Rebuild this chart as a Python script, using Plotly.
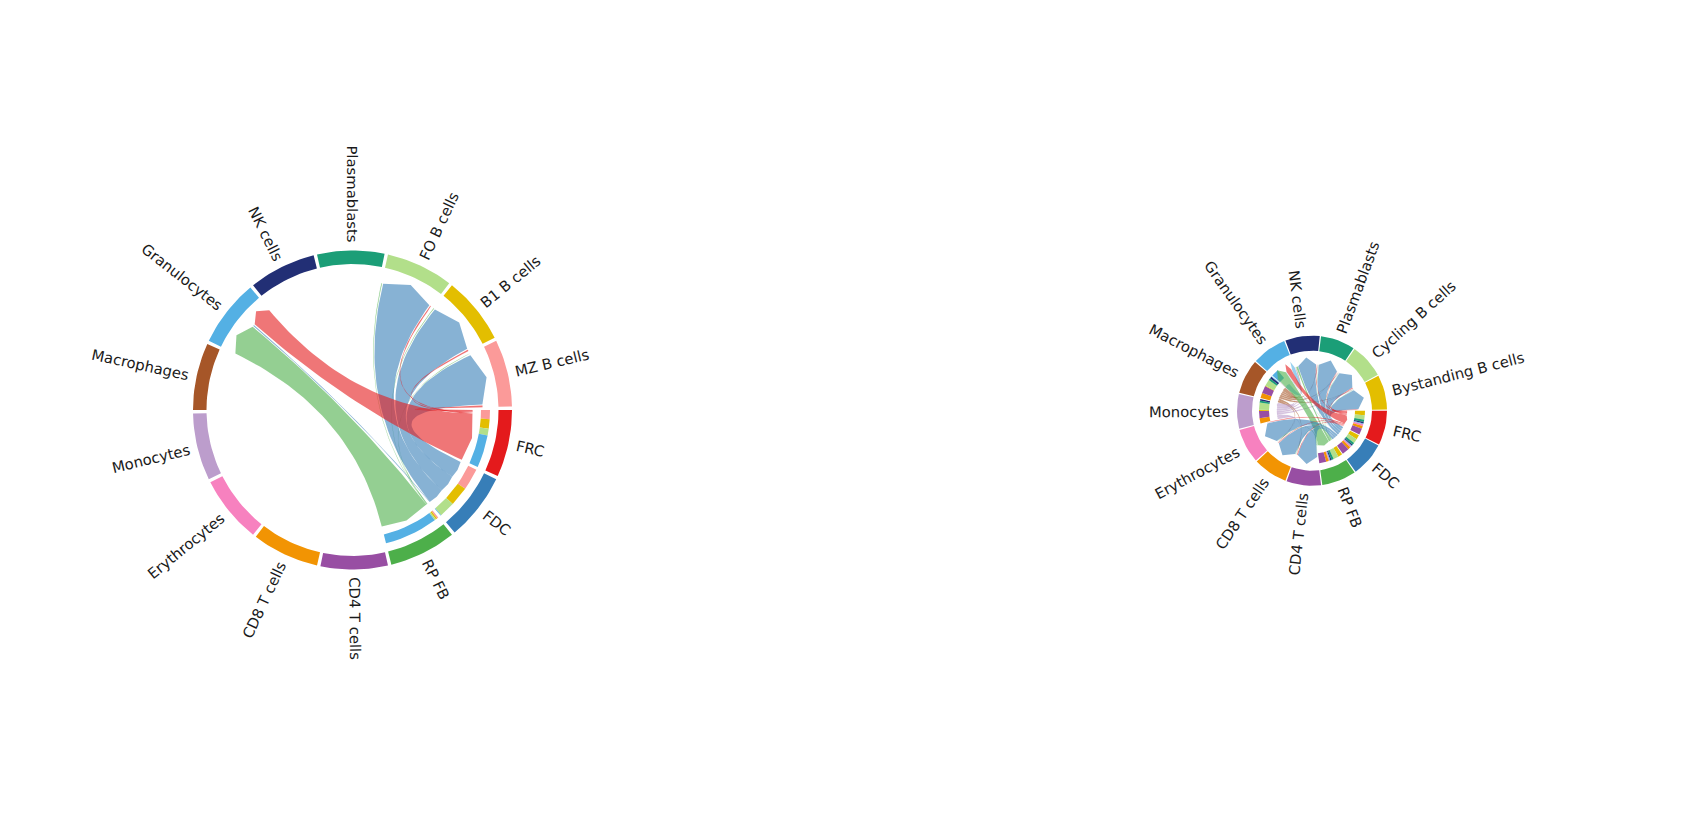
import math
import plotly.graph_objects as go

# ---------- data ----------
left_categories = ["FRC", "FDC", "RP FB", "CD4 T cells", "CD8 T cells", "Erythrocytes", "Monocytes",
                   "Macrophages", "Granulocytes", "NK cells", "Plasmablasts", "FO B cells", "B1 B cells", "MZ B cells"]
left_sources = ["FRC", "FDC", "RP FB"]
left_targets = ["MZ B cells", "B1 B cells", "FO B cells", "Granulocytes"]
left_flow = [[1.0, 0.9, 0.8, 35.0],
             [33.0, 33.0, 32.0, 1.5],
             [0.4, 0.4, 0.4, 55.0]]
left_ring = [[3.9, 4.0, 2.9, 14.0],
             [9.0, 8.0, 6.5, 0.3],
             [0.6, 0.6, 0.6, 22.0]]

right_categories = ["FRC", "FDC", "RP FB", "CD4 T cells", "CD8 T cells", "Erythrocytes", "Monocytes",
                    "Macrophages", "Granulocytes", "NK cells", "Plasmablasts", "Cycling B cells", "Bystanding B cells"]
right_sources = ["FRC", "FDC", "RP FB", "Monocytes", "Macrophages", "Granulocytes"]
right_source_span = [1, 1, 1, 1, 1, 0.3]
right_targets = ["Bystanding B cells", "Cycling B cells", "Plasmablasts", "NK cells", "Granulocytes",
                 "Erythrocytes", "CD8 T cells", "CD4 T cells"]
right_flow = [[1.0, 1.0, 1.0, 0.8, 8.0, 1.0, 0.8, 0.8],
              [30, 30, 30, 30, 0.3, 30, 30, 30],
              [0.4, 0.4, 0.4, 3.0, 16.0, 0.4, 0.4, 0.4],
              [0.15, 0.15, 0.15, 0.15, 0.3, 0, 0.15, 0.15],
              [0.15, 0.15, 0.15, 0.15, 0.3, 0, 0.15, 0.15],
              [0, 0, 0, 0, 5.5, 0, 0, 0]]
right_ring = [[5, 5, 2.5, 1.5, 1, 2, 3, 7],
              [5, 5, 2.5, 1.5, 1, 1.5, 3, 8],
              [5, 6, 2.5, 1.5, 1, 1, 3, 8],
              [1, 7, 2, 1.5, 0, 0, 5, 7],
              [0.5, 6, 2, 2, 0.5, 0, 5, 7],
              [0, 0, 0, 0, 8, 0, 0, 0]]

colors = {"FRC": "#E41A1C", "FDC": "#377EB8", "RP FB": "#4DAF4A", "CD4 T cells": "#984EA3",
          "CD8 T cells": "#F29403", "Erythrocytes": "#F781BF", "Monocytes": "#BC9DCC",
          "Macrophages": "#A65628", "Granulocytes": "#54B0E4", "NK cells": "#222F75",
          "Plasmablasts": "#1B9E77", "FO B cells": "#B2DF8A", "Cycling B cells": "#B2DF8A",
          "B1 B cells": "#E3BE00", "Bystanding B cells": "#E3BE00", "MZ B cells": "#FB9A99"}

char_w = {"a": .613, "b": .635, "c": .55, "d": .635, "e": .615, "f": .352, "g": .635, "h": .634, "i": .278,
          "j": .278, "k": .579, "l": .278, "m": .974, "n": .634, "o": .612, "p": .635, "q": .635, "r": .411,
          "s": .521, "t": .392, "u": .634, "v": .592, "w": .818, "x": .592, "y": .592, "z": .525, " ": .318,
          "B": .686, "C": .698, "D": .77, "E": .632, "F": .575, "G": .775, "M": .863, "N": .748, "O": .787,
          "P": .603, "R": .695, "T": .611, "Z": .685, "1": .636, "4": .636, "8": .636}

FONT = 14.8
W, H = 1690, 827


def rgba(hex_color, a):
    return "rgba(%d,%d,%d,%s)" % (int(hex_color[1:3], 16), int(hex_color[3:5], 16), int(hex_color[5:7], 16), a)


def pt(r, deg):
    a = math.radians(deg)
    return r * math.cos(a), r * math.sin(a)


def band(r0, r1, a0, a1, n):
    pts = [pt(r1, a0 + (a1 - a0) * i / n) for i in range(n + 1)]
    pts += [pt(r0, a1 + (a0 - a1) * i / n) for i in range(n + 1)]
    pts.append(pts[0])
    return pts


def poly(fig, pts, color, axes, line=0.0):
    fig.add_trace(go.Scatter(x=[p[0] for p in pts], y=[p[1] for p in pts], mode="lines", fill="toself",
                             fillcolor=color, line=dict(width=line, color=color), hoverinfo="skip",
                             showlegend=False, xaxis=axes[0], yaxis=axes[1]))


def bez(p0, p1, n=36):
    # quadratic curve whose control point is the circle centre
    return [((1 - t) ** 2 * p0[0] + t ** 2 * p1[0], (1 - t) ** 2 * p0[1] + t ** 2 * p1[1])
            for t in (i / n for i in range(n + 1))]


def chord(fig, axes, cats, sources, targets, flow, ring, span_frac, cfg):
    n = len(cats)
    step = 360.0 / n
    idx = {c: i for i, c in enumerate(cats)}
    # outer sectors
    for c in cats:
        a0 = -idx[c] * step
        a1 = a0 - (step - cfg["gap"])
        poly(fig, band(cfg["r_in"], cfg["r_out"], a0, a1, cfg["arc_n"]), colors[c], axes)
        mid = (a0 + a1) / 2 % 360
        if abs(mid - 90) < 2.5 and n == 14:
            mid = 90
        flip = 90 <= mid < 270
        width = sum(char_w.get(ch, .6) for ch in c) * FONT
        x, y = pt(cfg["r_out"] + cfg["pad"] + width / 2, mid)
        fig.add_annotation(x=x, y=y, xref=axes[0], yref=axes[1], text=c, showarrow=False, xanchor="center",
                           yanchor="middle", textangle=-(mid - 180 if flip else mid),
                           font=dict(family="DejaVu Sans", size=FONT, color="#1a1a1a"))

    # source side widths, clockwise from the sector start
    src_pos = {}
    for si, s in enumerate(sources):
        i = idx[s]
        start = -i * step
        used = (step - cfg["gap"]) * span_frac[si]
        order = sorted(range(len(targets)), key=lambda k: (i - 1 - idx[targets[k]]) % n)
        order_flow = [k for k in order if flow[si][k] > 0]
        gaps = cfg["src_gap"] * (len(order_flow) - 1)
        total = sum(flow[si][k] for k in order_flow)
        a = start
        for k in order_flow:
            w = flow[si][k] / total * (used - gaps)
            src_pos[(si, k)] = (a, a - w)
            a -= w + cfg["src_gap"]
        # inner ring
        order_ring = [k for k in order if ring[si][k] > 0]
        total = sum(ring[si][k] for k in order_ring)
        a = start
        for k in order_ring:
            w = ring[si][k] / total * used
            poly(fig, band(cfg["ring"][0], cfg["ring"][1], a, a - w, max(2, int(w / 3))), colors[targets[k]], axes)
            a -= w

    # target side widths
    tgt_pos = {}
    for k, t in enumerate(targets):
        j = idx[t]
        start = -j * step
        order = [si for si in sorted(range(len(sources)), key=lambda q: (j - idx[sources[q]] - 1) % n)
                 if flow[si][k] > 0]
        gaps = cfg["tgt_gap"] * (len(order) - 1)
        total = sum(flow[si][k] for si in order)
        a = start
        for si in order:
            w = flow[si][k] / total * (step - cfg["gap"] - gaps)
            tgt_pos[(si, k)] = (a, a - w)
            a -= w + cfg["tgt_gap"]

    # ribbons: later sources first, so the first source lies on top
    for si in reversed(range(len(sources))):
        for k in range(len(targets)):
            if flow[si][k] <= 0:
                continue
            s0, s1 = src_pos[(si, k)]
            t0, t1 = tgt_pos[(si, k)]
            rs, rt = cfg["r_src"], cfg["r_tgt"]
            dt = abs(t1 - t0)
            pts = bez(pt(rs, s0), pt(rt, t1))
            pts.append(pt(rt + (cfg["bump_tgt"] if dt > 4 else 0), (t0 + t1) / 2))
            pts += bez(pt(rt, t0), pt(rs, s1))
            pts.append(pt(rs + cfg["k_src"] * abs(s1 - s0), (s0 + s1) / 2))
            pts.append(pts[0])
            thin = dt < 1.5 or abs(s1 - s0) < 1.5
            poly(fig, pts, rgba(colors[sources[si]], 0.6), axes, 0.1 if thin else 0.0)


fig = go.Figure()
cfg_left = dict(gap=1.25, r_out=159.5, r_in=146, ring=(128.5, 137.5), r_src=120, r_tgt=130, bump_tgt=8,
                k_src=0.12, src_gap=0.02, tgt_gap=0.5, pad=8, arc_n=14)
cfg_right = dict(gap=1.0, r_out=75, r_in=60, ring=(43, 53), r_src=35, r_tgt=46.5, bump_tgt=7,
                 k_src=0.1, src_gap=0.3, tgt_gap=0.35, pad=8, arc_n=6)

chord(fig, ("x", "y"), left_categories, left_sources, left_targets, left_flow, left_ring, [1, 1, 1], cfg_left)
chord(fig, ("x2", "y2"), right_categories, right_sources, right_targets, right_flow, right_ring,
      right_source_span, cfg_right)


def axis(center, half, size, flip=False):
    c = size - center if flip else center
    return dict(domain=[(c - half) / size, (c + half) / size], range=[-half, half], visible=False, fixedrange=True)


half_l, half_r = 300, 240
fig.update_layout(
    width=W, height=H, margin=dict(l=0, r=0, t=0, b=0), paper_bgcolor="white", plot_bgcolor="white",
    showlegend=False,
    xaxis=axis(352.5, half_l, W), yaxis=axis(410, half_l, H, True),
    xaxis2=axis(1312, half_r, W), yaxis2=axis(410.7, half_r, H, True),
)
fig.write_html("out.html", config={"displayModeBar": False}, post_script="document.body.style.margin='0';")
